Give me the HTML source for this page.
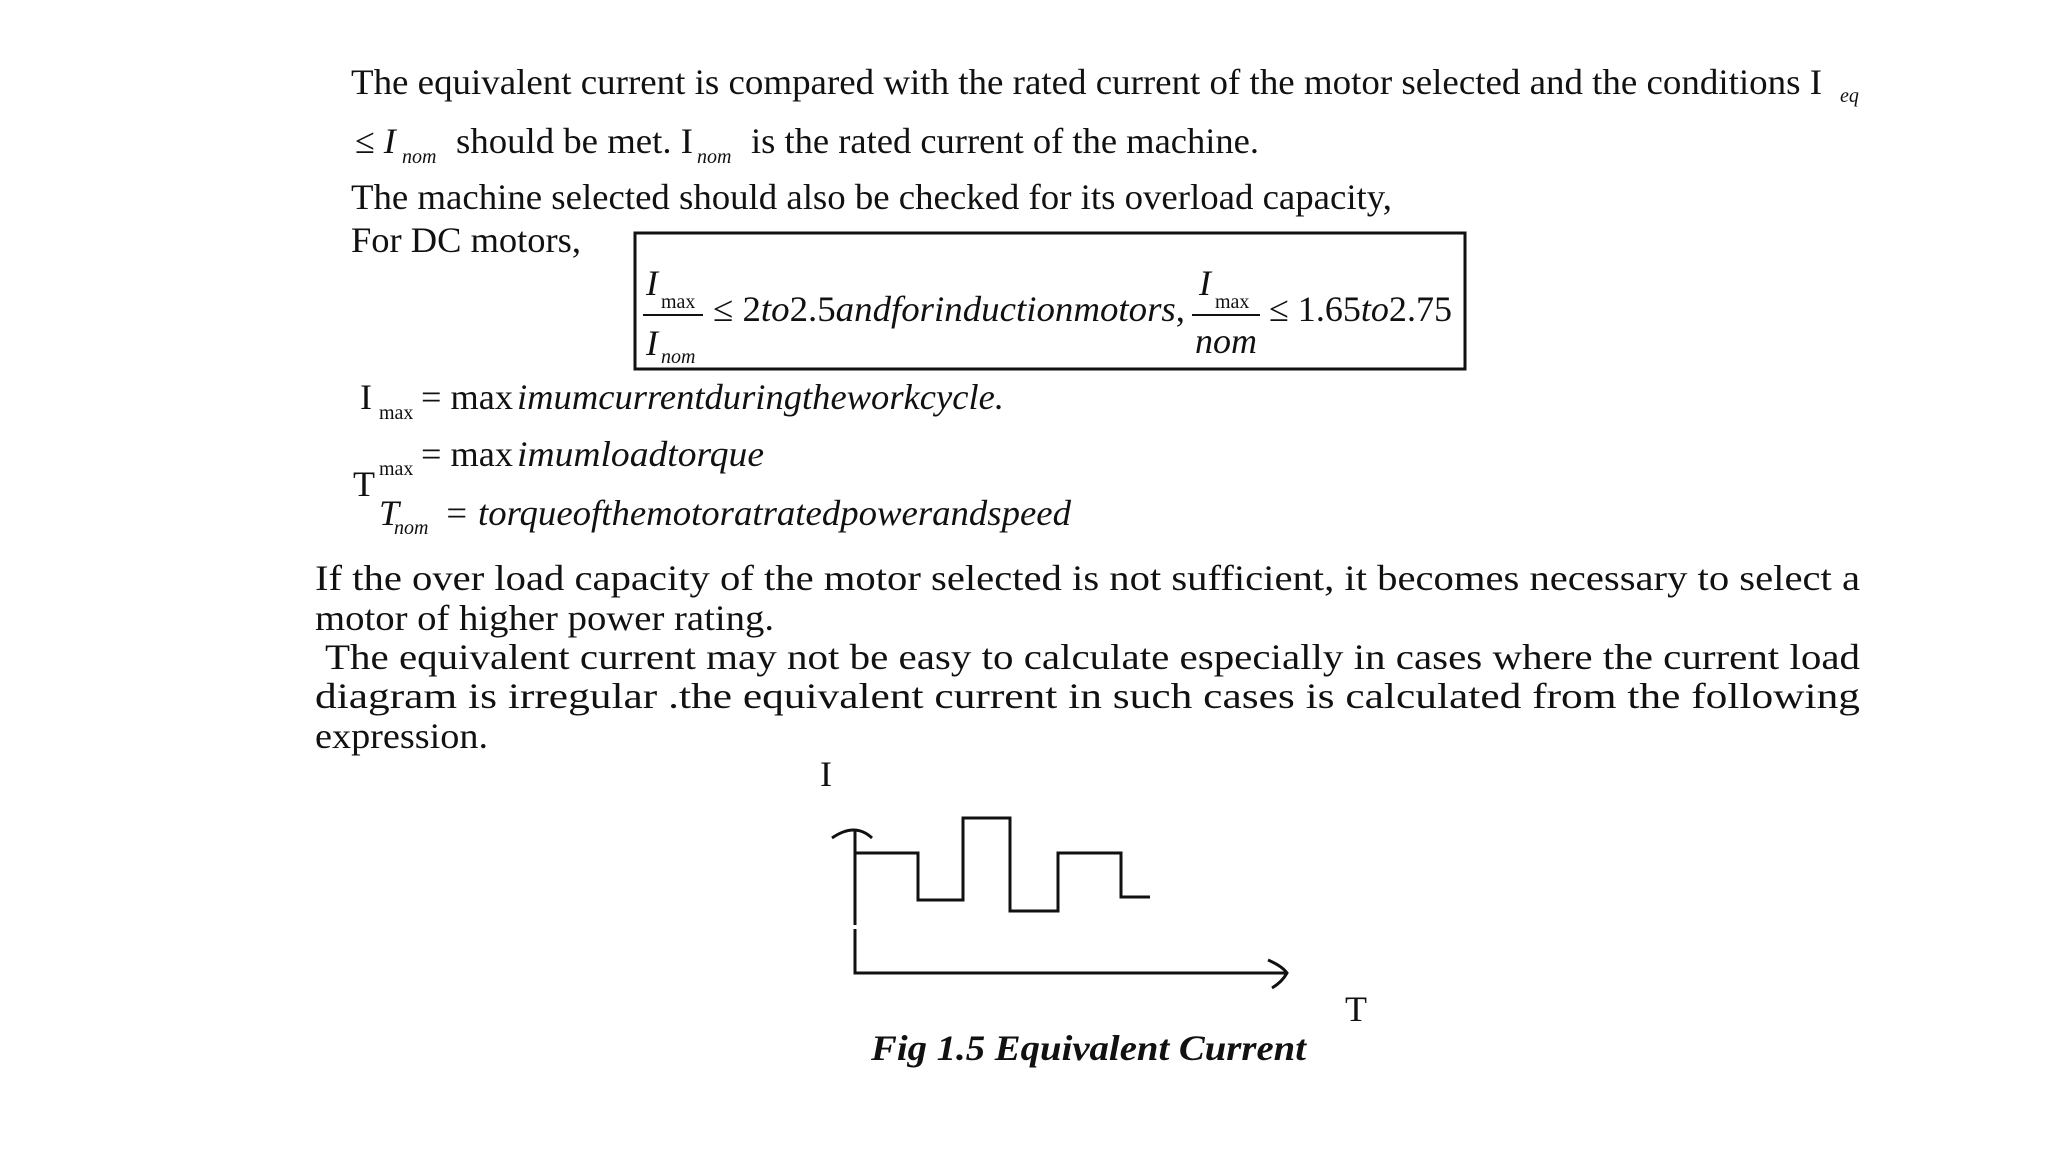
<!DOCTYPE html>
<html><head><meta charset="utf-8"><style>
html,body{margin:0;padding:0;background:#fff;}
svg{display:block;}
text{font-family:"Liberation Serif",serif;fill:#111;}
.i{font-style:italic;}
</style></head><body>
<svg width="2048" height="1152" viewBox="0 0 2048 1152" xmlns="http://www.w3.org/2000/svg">
<g font-size="36">
<text x="351" y="94" textLength="1471" lengthAdjust="spacingAndGlyphs">The equivalent current is compared with the rated current of the motor selected and the conditions I</text>
<text x="1840" y="102" font-size="20" class="i">eq</text>
<text x="355" y="153">≤ <tspan class="i">I</tspan></text>
<text x="402" y="163" font-size="20" class="i">nom</text>
<text x="456" y="153" textLength="237" lengthAdjust="spacingAndGlyphs">should be met. I</text>
<text x="697" y="163" font-size="20" class="i">nom</text>
<text x="751" y="153" textLength="508" lengthAdjust="spacingAndGlyphs">is the rated current of the machine.</text>
<text x="351" y="209" textLength="1041" lengthAdjust="spacingAndGlyphs">The machine selected should also be checked for its overload capacity,</text>
<text x="351" y="252" textLength="230" lengthAdjust="spacingAndGlyphs">For DC motors,</text>
</g>
<rect x="635" y="233" width="830" height="136" fill="none" stroke="#111" stroke-width="3"/>
<g font-size="36">
<text x="646" y="295" class="i">I</text>
<text x="661" y="308" font-size="20">max</text>
<line x1="643" y1="315" x2="703" y2="315" stroke="#111" stroke-width="2"/>
<text x="646" y="355" class="i">I</text>
<text x="661" y="363" font-size="20" class="i">nom</text>
<text x="713" y="321" textLength="472" lengthAdjust="spacingAndGlyphs">≤ 2<tspan class="i">to</tspan>2.5<tspan class="i">andforinductionmotors</tspan>,</text>
<text x="1199" y="295" class="i">I</text>
<text x="1215" y="308" font-size="20">max</text>
<line x1="1192" y1="315" x2="1260" y2="315" stroke="#111" stroke-width="2"/>
<text x="1195" y="353" class="i">nom</text>
<text x="1269" y="321" textLength="183" lengthAdjust="spacingAndGlyphs">≤ 1.65<tspan class="i">to</tspan>2.75</text>

<text x="360" y="409">I</text>
<text x="379" y="419" font-size="20">max</text>
<text x="421" y="409" textLength="92" lengthAdjust="spacingAndGlyphs">= max</text>
<text x="517" y="409" class="i" textLength="487" lengthAdjust="spacingAndGlyphs">imumcurrentduringtheworkcycle.</text>
<text x="379" y="475" font-size="20">max</text>
<text x="421" y="466" textLength="92" lengthAdjust="spacingAndGlyphs">= max</text>
<text x="517" y="466" class="i" textLength="247" lengthAdjust="spacingAndGlyphs">imumloadtorque</text>
<text x="353" y="496">T</text>
<text x="379" y="525" class="i">T</text>
<text x="394" y="534" font-size="20" class="i">nom</text>
<text x="444" y="525" class="i" textLength="627" lengthAdjust="spacingAndGlyphs">= torqueofthemotoratratedpowerandspeed</text>

<text x="315" y="590" textLength="1545" lengthAdjust="spacingAndGlyphs">If the over load capacity of the motor selected is not sufficient, it becomes necessary to select a</text>
<text x="315" y="630" textLength="459" lengthAdjust="spacingAndGlyphs">motor of higher power rating.</text>
<text x="325" y="669" textLength="1535" lengthAdjust="spacingAndGlyphs">The equivalent current may not be easy to calculate especially in cases where the current load</text>
<text x="315" y="708" textLength="1545" lengthAdjust="spacingAndGlyphs">diagram is irregular .the equivalent current in such cases is calculated from the following</text>
<text x="315" y="748" textLength="173" lengthAdjust="spacingAndGlyphs">expression.</text>
<text x="820" y="786">I</text>
<text x="1345" y="1021">T</text>
<text x="871" y="1060" font-weight="bold" class="i" textLength="435" lengthAdjust="spacingAndGlyphs">Fig 1.5 Equivalent Current</text>
</g>
<g fill="none" stroke="#111" stroke-width="3">
<path d="M855 831 V925 M855 929 V973 H1287"/>
<path d="M832 838 Q855 822 872 838"/>
<path d="M1268 960 Q1282 966 1287 973 Q1282 982 1272 988"/>
<path d="M855 853 H918 V900 H963 V818 H1010 V911 H1058 V853 H1121 V897 H1150"/>
</g>
</svg>
</body></html>
